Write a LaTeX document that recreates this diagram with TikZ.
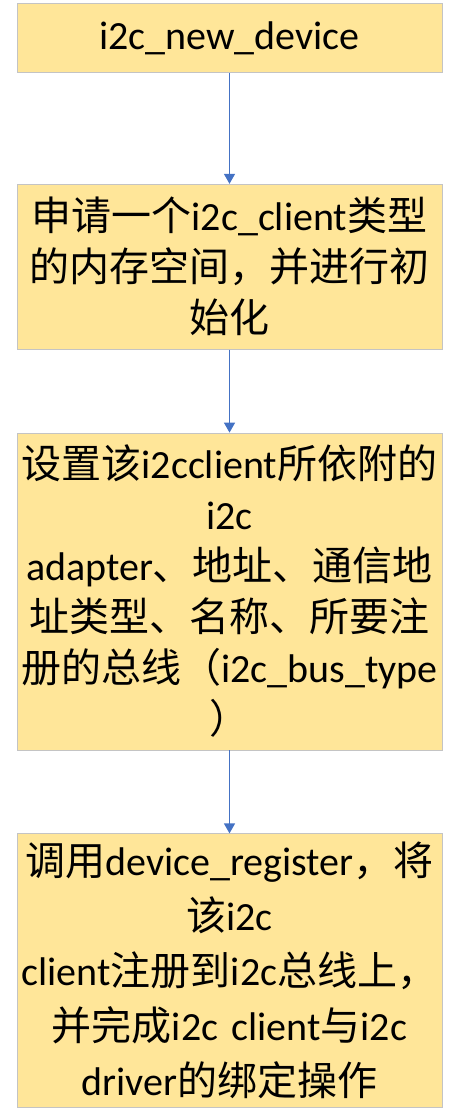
\documentclass[tikz,border=0pt]{standalone}
\usepackage{fontspec}
\setmainfont{Carlito}
\newfontfamily\cjk{Noto Sans CJK SC}
\usetikzlibrary{positioning,arrows.meta}
\definecolor{boxfill}{HTML}{FFE699}
\definecolor{boxline}{HTML}{C4C4C4}
\definecolor{flowblue}{HTML}{4472C4}
\newcommand{\zh}[1]{{\cjk #1}}
\tikzset{
  flow/.style={draw=flowblue,line width=1.4pt,-{Triangle[width=11pt,length=10pt]}},
  stepbox/.style={
  draw=boxline,
  fill=boxfill,
  line width=0.8pt,
  inner sep=0pt,
  minimum width=425pt,
  text width=424pt,
  align=center,
  minimum height=#1,
  font=\fontsize{40pt}{51pt}\selectfont
  },
  widebox/.style={stepbox=#1,font=\fontsize{40pt}{55pt}\selectfont}
}

\begin{document}
\begin{tikzpicture}[x=1pt,y=-1pt]
  \useasboundingbox (0,0) rectangle (460,1120);

  \node [stepbox=69pt,anchor=north] (new) at (229.5,3) {i2c\_new\_device};
  \node [stepbox=165pt,below=111pt of new] (alloc)
    {\zh{申请一个}i2c\_client\zh{类型}\\
     \zh{的内存空间，并进行初}\\
     \zh{始化}};
  \node [stepbox=317pt,below=83pt of alloc] (setup)
    {\zh{设置该}i2cclient\zh{所依附的}\\
     i2c\\
     adapter\zh{、地址、通信地}\\
     \zh{址类型、名称、所要注}\\
     \zh{册的总线（}i2c\_bus\_type\\
     \zh{）}};
  \node [widebox=274pt,below=83pt of setup] (reg)
    {\zh{调用}device\_register\zh{，将}\\
     \zh{该}i2c\\
     client\zh{注册到}i2c\zh{总线上，}\\
     \zh{并完成}i2c client\zh{与}i2c\\
     driver\zh{的绑定操作}};

  \path (new) edge [flow] (alloc)
        (alloc) edge [flow] (setup)
        (setup) edge [flow] (reg);
\end{tikzpicture}
\end{document}
